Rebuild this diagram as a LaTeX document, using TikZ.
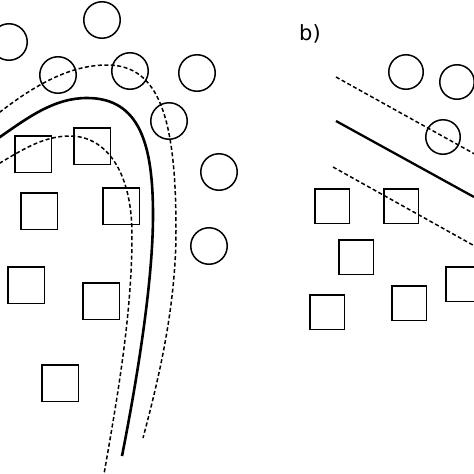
\documentclass[tikz,border=0pt]{standalone}
\usepackage{fontspec}
\newfontfamily\labfont{DejaVu Sans}
\begin{document}
\begin{tikzpicture}[x=1pt,y=-1pt,
  cl/.style={draw,circle,line width=1.5pt,minimum size=36.5pt,inner sep=0pt},
  sq/.style={draw,rectangle,line width=1.5pt,minimum size=36.5pt,inner sep=0pt},
  cr/.style={draw,circle,line width=1.5pt,minimum size=34.5pt,inner sep=0pt},
  sr/.style={draw,rectangle,line width=1.5pt,minimum size=34.5pt,inner sep=0pt},
  bound/.style={line width=2.6pt},
  margin/.style={line width=1.5pt,dash pattern=on 4pt off 2.5pt}]
\useasboundingbox (0,0) rectangle (474,474);
\begin{scope}
\clip (0,0) rectangle (474,474);
% left panel circles
\node[cl] (c1) at (102,20) {};
\node[cl] (c2) at (9,42) {};
\node[cl] (c3) at (58,75) {};
\node[cl] (c4) at (130,71) {};
\node[cl] (c5) at (197,73) {};
\node[cl] (c6) at (169,121) {};
\node[cl] (c7) at (219,172) {};
\node[cl] (c8) at (209,246) {};
% left panel squares
\node[sq] (s1) at (33,154) {};
\node[sq] (s2) at (92,146) {};
\node[sq] (s3) at (39,211) {};
\node[sq] (s4) at (121,206) {};
\node[sq] (s5) at (26,285) {};
\node[sq] (s6) at (101,301) {};
\node[sq] (s7) at (60,383) {};
% left panel boundary and margins
\draw[bound] (-6,141) -- (0,137) .. controls (30,116) and (55,98) .. (87,98)
  .. controls (140,98) and (153,145) .. (153,215)
  .. controls (153,290) and (133,400) .. (122,456);
\draw[margin] (-6,116) -- (0,112) .. controls (35,85) and (70,65) .. (107,65)
  .. controls (160,65) and (176,120) .. (176,230)
  .. controls (176,310) and (157,385) .. (143,438);
\draw[margin] (-6,167) -- (0,163) .. controls (25,148) and (45,136) .. (70,136)
  .. controls (105,136) and (132,170) .. (132,235)
  .. controls (132,320) and (115,410) .. (103,480);
% right panel
\node[font=\labfont\fontsize{21}{25}\selectfont] (lb) at (310,34) {b)};
\node[cr] (r1) at (406,72) {};
\node[cr] (r2) at (457,82) {};
\node[cr] (r3) at (443,137) {};
\node[sr] (q1) at (332,206) {};
\node[sr] (q2) at (401,206) {};
\node[sr] (q3) at (356,257) {};
\node[sr] (q4) at (327,312) {};
\node[sr] (q5) at (409,303) {};
\node[sr] (q6) at (463,284) {};
\coordinate (ua) at (336,77);
\coordinate (ub) at (480,157);
\coordinate (ma) at (336,121);
\coordinate (mb) at (474,197);
\coordinate (la) at (333,167);
\coordinate (lb2) at (480,249);
\draw[margin] (ua) -- (ub);
\draw[line width=2.3pt] (ma) -- (mb);
\draw[margin] (la) -- (lb2);
\end{scope}
\end{tikzpicture}
\end{document}
